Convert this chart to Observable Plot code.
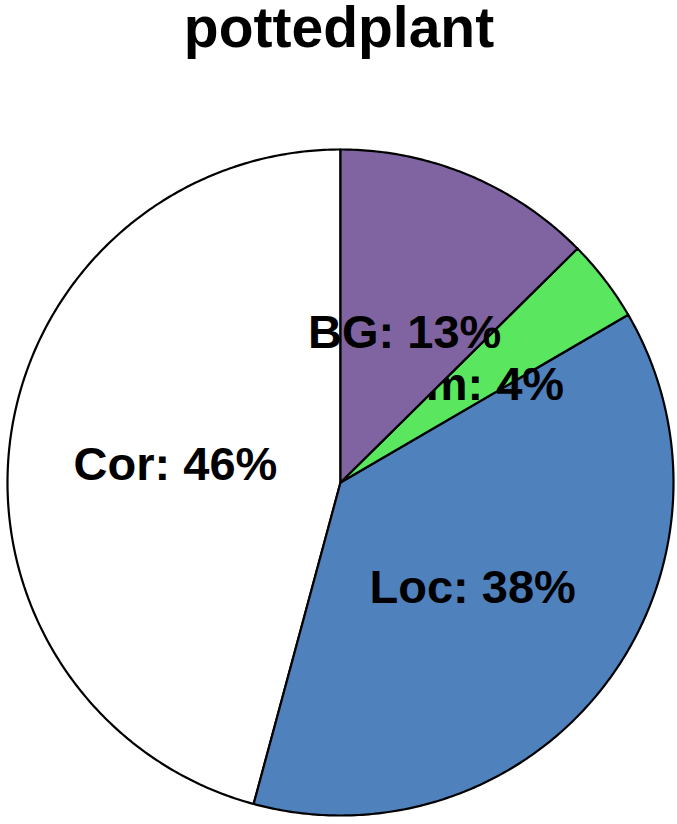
<!DOCTYPE html>
<html><head><meta charset="utf-8">
<script src="https://cdn.jsdelivr.net/npm/d3@7"></script>
<script src="https://cdn.jsdelivr.net/npm/@observablehq/plot@0.6"></script>
<style>body{margin:0;background:#fff}</style>
</head><body><div id="chart"></div>
<script>
const title = "pottedplant";
const categories = ["BG", "Sim", "Loc", "Cor"];
const values = [12.6, 4.0, 37.6, 45.8];
const colors = ["#8064A2", "#5BE65F", "#4F81BD", "#FFFFFF"];

const W = 677, H = 824, CX = 340, CY = 482, R = 333;
const pie = d3.pie().sort(null).value(d => d.value)(categories.map((c, i) => ({cat: c, value: values[i], color: colors[i]})));
const slices = pie.map(p => {
  const pts = [[0, 0]];
  const n = Math.max(2, Math.ceil((p.endAngle - p.startAngle) / 0.01));
  for (let k = 0; k <= n; k++) {
    const a = p.startAngle + (p.endAngle - p.startAngle) * k / n;
    pts.push([Math.sin(a), Math.cos(a)]);
  }
  pts.push([0, 0]);
  const mid = (p.startAngle + p.endAngle) / 2;
  const pct = Math.round(p.data.value);
  return {cat: p.data.cat, color: p.data.color, pts, lx: 0.5 * Math.sin(mid), ly: 0.5 * Math.cos(mid), label: `${p.data.cat}: ${pct}%`};
});
const byCat = Object.fromEntries(slices.map(s => [s.cat, s]));
const polyMark = s => Plot.line(s.pts, {x: d => d[0], y: d => d[1], fill: s.color, stroke: "black", strokeWidth: 2.2, strokeLinejoin: "round"});
const labelMark = s => Plot.text([s], {x: "lx", y: "ly", text: "label", fontSize: 47, fontWeight: "bold", fill: "black", textAnchor: "middle", lineAnchor: "middle", dy: 4});

const order = ["Cor", "Loc", "Sim"];
const marks = [];
for (const c of order) marks.push(polyMark(byCat[c]));
marks.push(labelMark(byCat["Sim"]));
marks.push(polyMark(byCat["BG"]));
marks.push(labelMark(byCat["BG"]));
marks.push(labelMark(byCat["Loc"]));
marks.push(labelMark(byCat["Cor"]));
marks.push(Plot.text([title], {frameAnchor: "top", text: d => d, fontSize: 57, fontWeight: "bold", fill: "black", dy: 6, lineAnchor: "top"}));

const chart = Plot.plot({
  width: W, height: H, margin: 0,
  style: {fontFamily: "Liberation Sans, Arial, Helvetica, sans-serif", background: "white"},
  x: {domain: [-1, 1], range: [CX - R, CX + R], axis: null},
  y: {domain: [-1, 1], range: [CY + R, CY - R], axis: null},
  marks
});
document.getElementById("chart").appendChild(chart);
</script>
</body></html>
